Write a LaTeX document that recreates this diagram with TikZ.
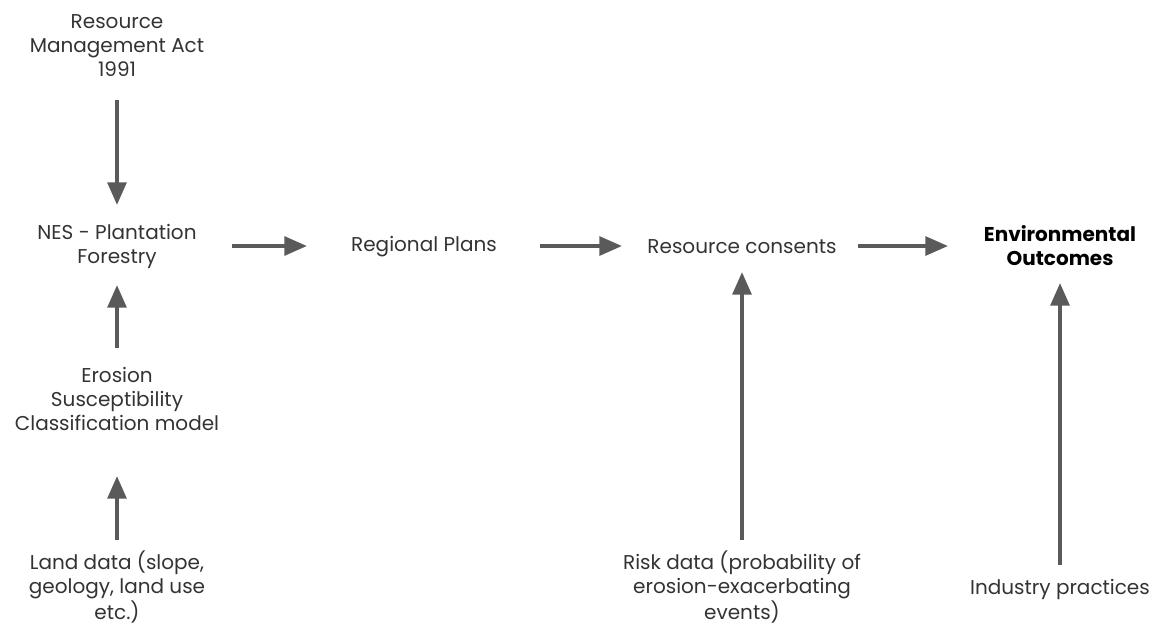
\documentclass[tikz,border=0pt]{standalone}
\usepackage{fontspec}
\setmainfont{Poppins}
\usetikzlibrary{arrows.meta,positioning,calc}
\definecolor{arrowgrey}{HTML}{5A5A5A}
\definecolor{textgrey}{HTML}{333333}

\begin{document}
\begin{tikzpicture}[x=0.75pt,y=0.75pt,yscale=-1,xscale=1,
    lbl/.style={align=center, text=textgrey, inner sep=0pt,
      font=\fontsize{15}{18}\selectfont},
    flow/.style={draw=arrowgrey, line width=3pt,
      -{Triangle[length=17pt,width=14pt]}}]
    \path[use as bounding box] (0,0) rectangle (1157,625);

    % Text Nodes, left column
    \node[lbl] (rma) at (117,46) {Resource\\Management Act\\1991};
    \node[lbl] (nes) at (117,246) {NES - Plantation\\Forestry};
    \node[lbl] (erosion) at (117,399) {Erosion\\Susceptibility\\Classification model};
    \node[lbl] (land) at (117,587) {Land data (slope,\\geology, land use\\etc.)};

    % Text Nodes, main row
    \node[lbl] (regional) at (424,247) {Regional Plans};
    \node[lbl] (consents) at (742,247) {Resource consents};
    \node[lbl, text=black, font=\fontsize{15}{18}\selectfont\bfseries] (env) at (1060,246) {Environmental\\Outcomes};

    % Text Nodes, bottom row
    \node[lbl] (risk) at (742,587) {Risk data (probability of\\erosion-exacerbating\\events)};
    \node[lbl] (industry) at (1060,589) {Industry practices};

    % Vertical arrows
    \draw[flow] ($(rma)+(0,54)$) -- ($(nes)+(0,-41)$);
    \draw[flow] ($(erosion)+(0,-51)$) -- ($(nes)+(0,39)$);
    \draw[flow] ($(land)+(0,-47)$) -- ($(erosion)+(0,77)$);
    \draw[flow] ($(risk)+(0,-47)$) -- ($(consents)+(0,25)$);
    \draw[flow] ($(industry)+(0,-24)$) -- ($(env)+(0,37)$);

    % Horizontal arrows
    \draw[flow] ($(nes)+(115,0)$) -- ($(regional)+(-117,-1)$);
    \draw[flow] ($(regional)+(116,-1)$) -- ($(consents)+(-120,-1)$);
    \draw[flow] ($(consents)+(116,-1)$) -- ($(env)+(-112,0)$);

\end{tikzpicture}
\end{document}
